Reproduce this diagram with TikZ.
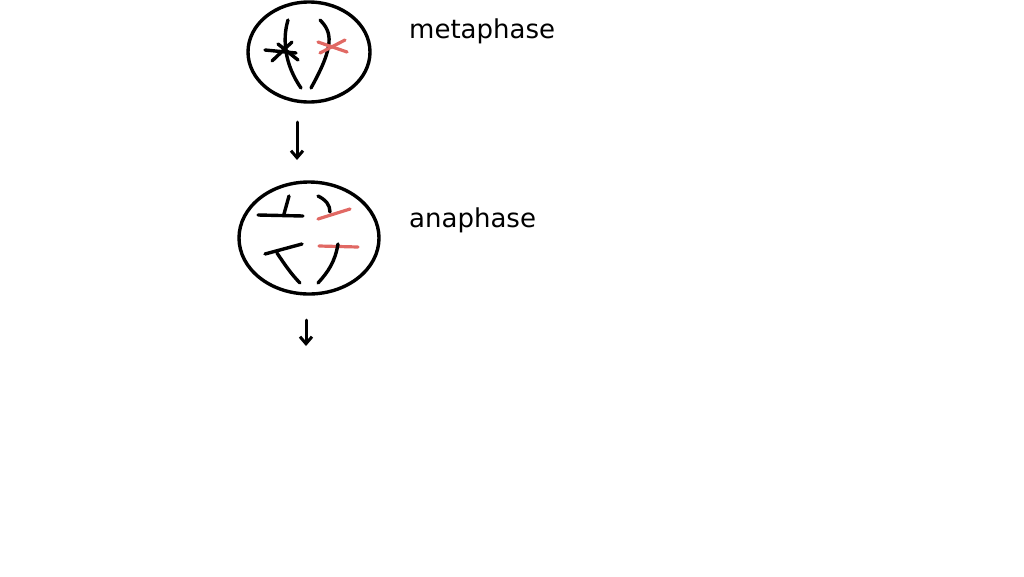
\documentclass[tikz,border=0pt]{standalone}
\usepackage{fontspec}
\setmainfont{DejaVu Sans}
\usetikzlibrary{arrows.meta,shapes.geometric}
\begin{document}
\begin{tikzpicture}[x=1pt,y=-1pt,
  ink/.style={line width=3.4pt,line cap=round,black},
  redink/.style={line width=3.2pt,line cap=round,color={rgb,255:red,225;green,105;blue,100}},
  lab/.style={font=\fontsize{26}{30}\selectfont,anchor=west,inner sep=0pt},
  arr/.style={ink,line width=3pt,->,>={Straight Barb[length=7pt,width=12pt]}}]
\useasboundingbox (0,0) rectangle (1024,576);
% cell 1
\node[ink,draw,ellipse,minimum width=122,minimum height=100,inner sep=0] (c1) at (309,52) {};
\draw[ink] (288,20) .. controls (282,40) and (285,65) .. (301,88);
\draw[ink] (265,50) -- (296,53);
\draw[ink] (272,61) -- (292,42);
\draw[ink] (278,44) -- (298,60);
\draw[ink] (320,20) .. controls (332,32) and (335,45) .. (311,88);
\draw[redink] (318,42) -- (347,52);
\draw[redink] (320,53) -- (345,40);
% arrow 1
\coordinate (a1s) at (297,122); \coordinate (a1e) at (297,160);
\draw[arr] (a1s) -- (a1e);
% cell 2
\node[ink,draw,ellipse,minimum width=140,minimum height=112,inner sep=0] (c2) at (309,238) {};
\draw[ink] (258,215) -- (303,216);
\draw[ink] (289,196) -- (284,214);
\draw[ink] (318,196) .. controls (326,200) and (330,205) .. (330,212);
\draw[redink] (318,219) -- (350,209);
\draw[ink] (265,254) -- (302,244);
\draw[ink] (277,253) .. controls (285,265) and (292,275) .. (300,283);
\draw[redink] (319,246) -- (358,247);
\draw[ink] (338,244) .. controls (335,262) and (328,272) .. (318,283);
% arrow 2
\coordinate (a2s) at (306,320); \coordinate (a2e) at (306,346);
\draw[arr] (a2s) -- (a2e);
\node[lab] (t1) at (409,31) {metaphase};
\node[lab] (t2) at (409,220) {anaphase};
\end{tikzpicture}
\end{document}
